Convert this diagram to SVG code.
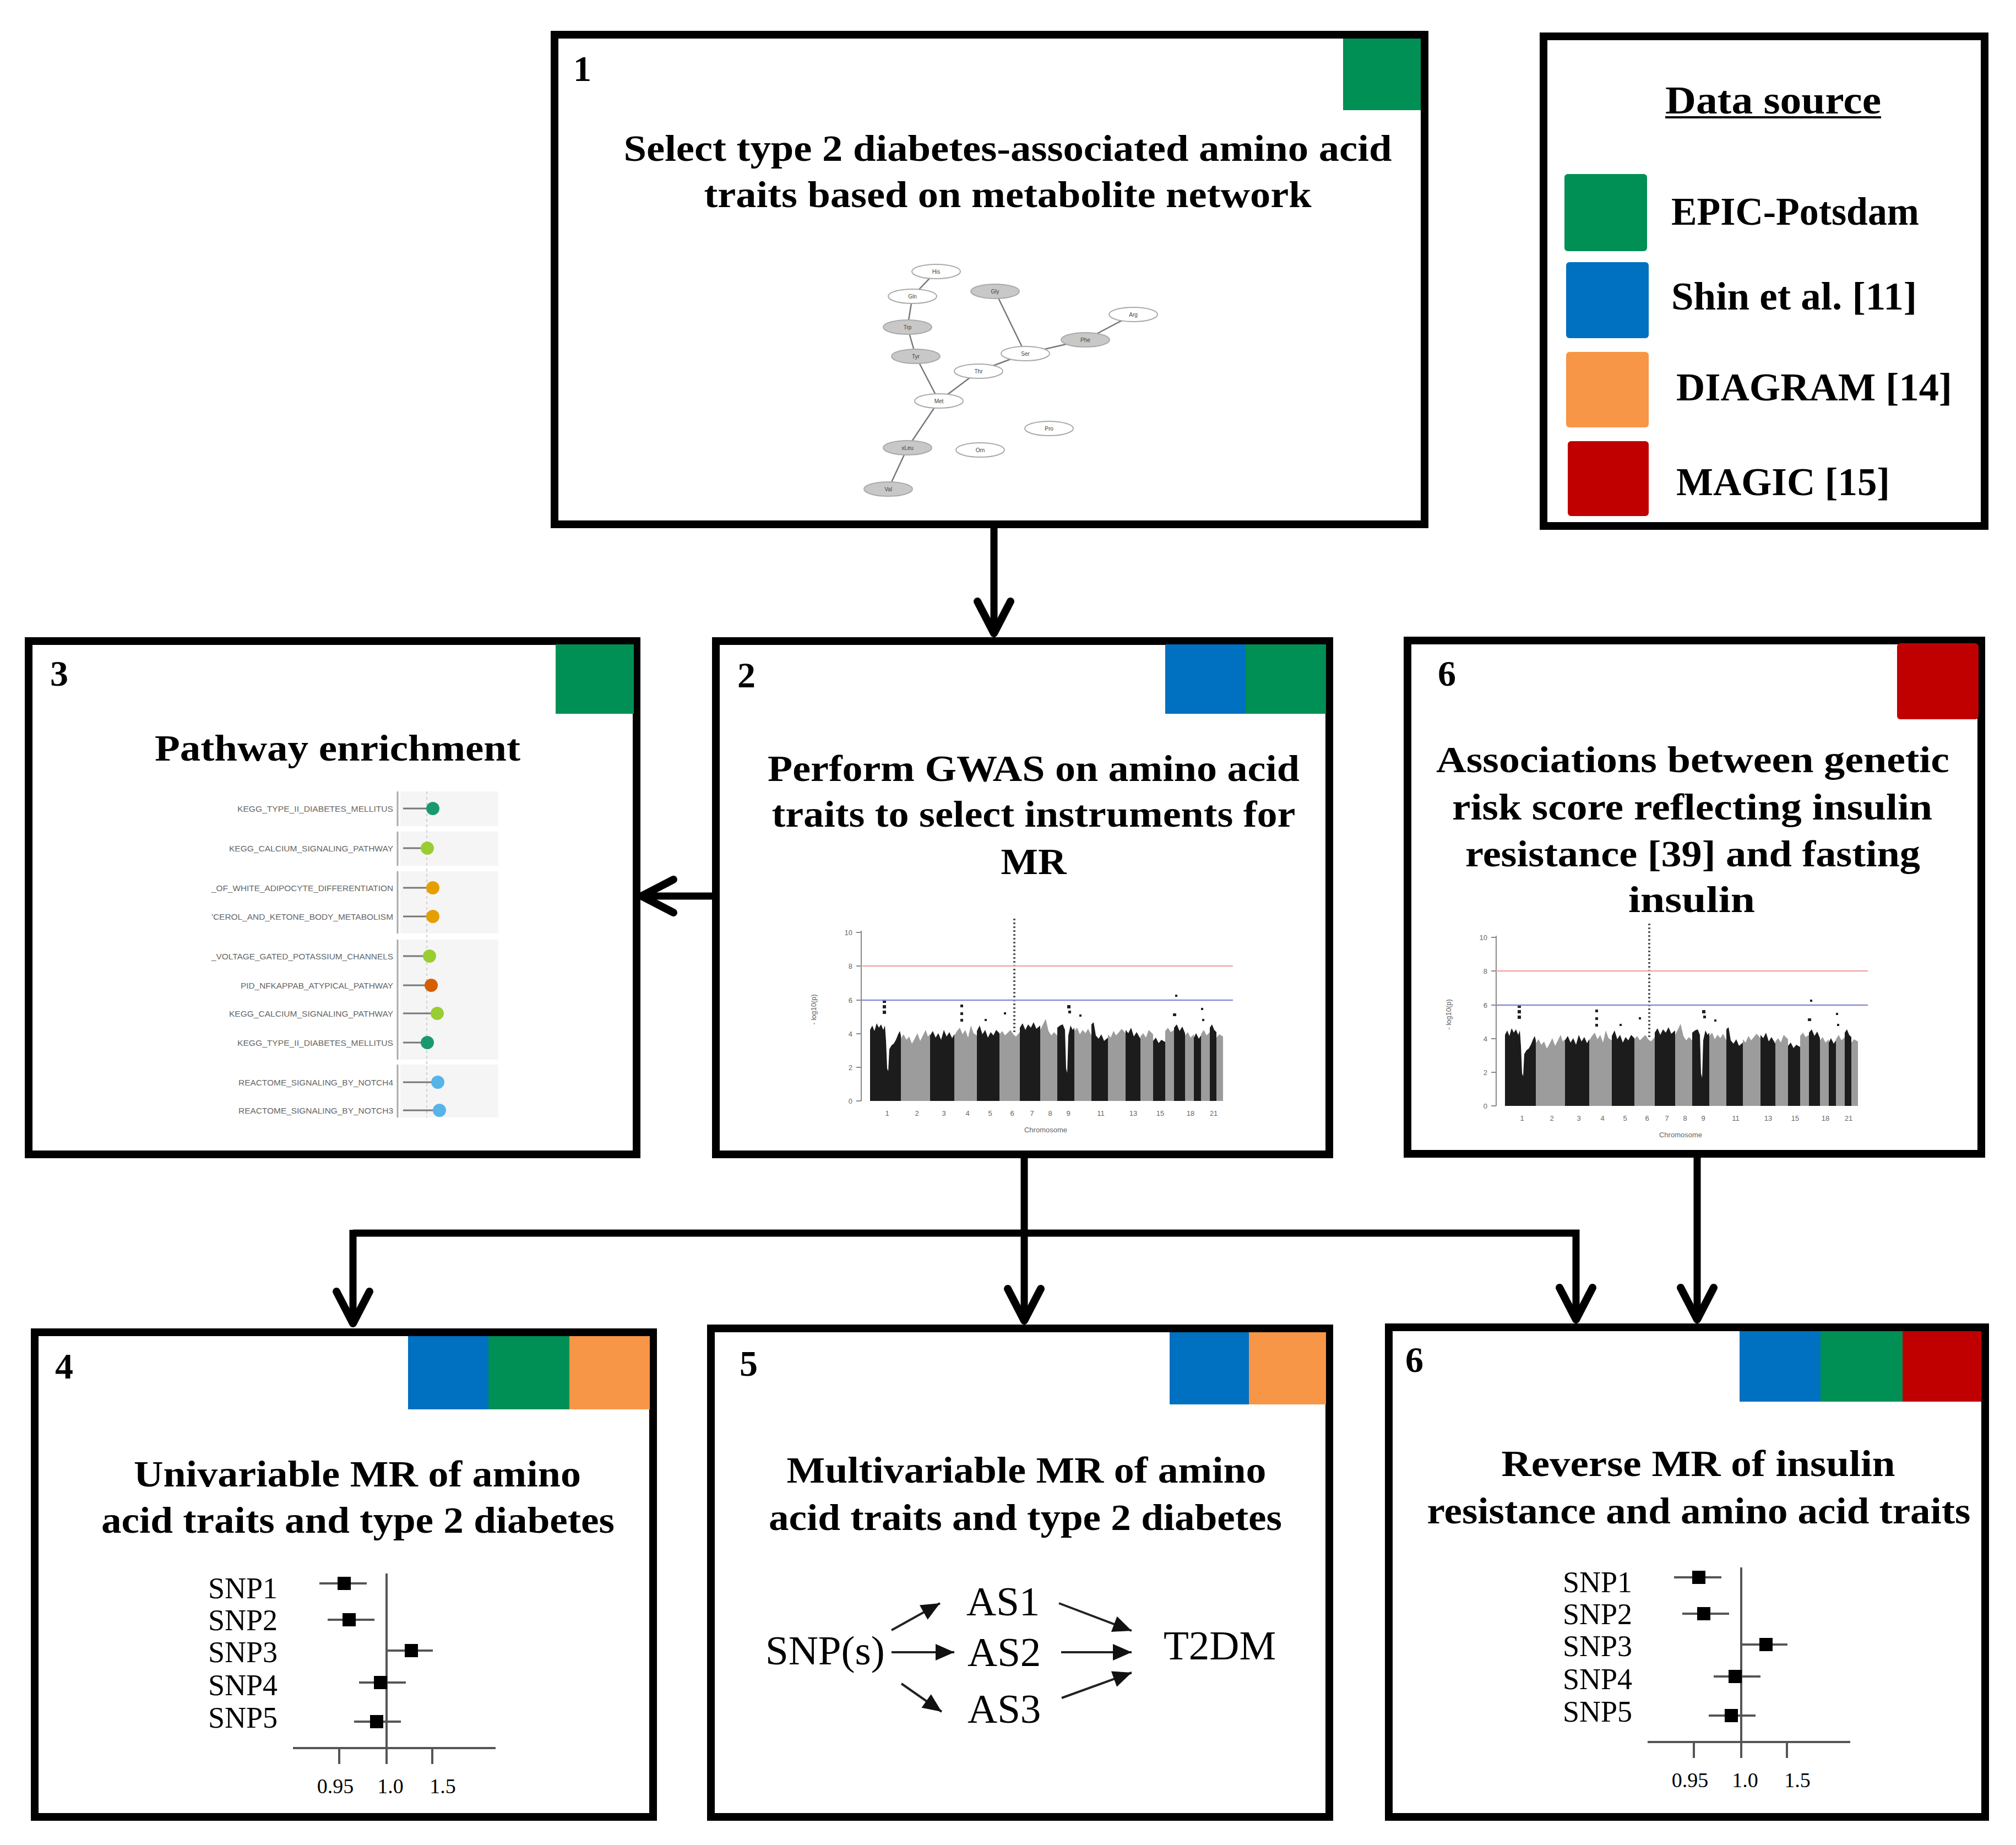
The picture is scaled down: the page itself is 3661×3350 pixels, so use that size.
<svg xmlns="http://www.w3.org/2000/svg" xmlns:xlink="http://www.w3.org/1999/xlink" width="3661" height="3350" viewBox="0 0 3661 3350">
<style>
.box{fill:#fff;stroke:#000;stroke-width:14}
.num{font-family:"Liberation Serif",serif;font-size:66px;font-weight:bold;fill:#000}
.title{font-family:"Liberation Serif",serif;font-weight:bold;font-size:68px;text-anchor:middle;fill:#000}
.leg{font-family:"Liberation Serif",serif;font-weight:bold;font-size:72px;fill:#000}
.conn{fill:none;stroke:#000;stroke-width:13}
.edge{stroke:#777;stroke-width:2.5}
.nw{fill:#fff;stroke:#aaa;stroke-width:2}
.ng{fill:#c8c8c8;stroke:#aaa;stroke-width:2}
.nt{font-family:"Liberation Sans",sans-serif;font-size:10px;fill:#444;text-anchor:middle}
.tick{font-family:"Liberation Sans",sans-serif;font-size:13px;fill:#666}
.pw{font-family:"Liberation Sans",sans-serif;font-size:15px;fill:#666;text-anchor:end}
.panel{fill:#f5f5f5}
.stem{stroke:#777;stroke-width:3}
.snp{font-family:"Liberation Serif",serif;font-size:54px;fill:#000}
.fl{stroke:#555;stroke-width:4}
.ft{font-family:"Liberation Serif",serif;font-size:38px;fill:#000;text-anchor:middle}
.mv{font-family:"Liberation Serif",serif;font-size:75px;fill:#000}
.mva{stroke:#222;stroke-width:4}
.blk{fill:#1c1c1c}
.gry{fill:#9c9c9c}
</style>
<defs>
<marker id="chev" markerUnits="userSpaceOnUse" viewBox="-80 -50 100 100" markerWidth="100" markerHeight="100" refX="0" refY="0" orient="auto" overflow="visible">
<path d="M -58 -30 L 0 0 L -58 30" fill="none" stroke="#000" stroke-width="14" stroke-linecap="round" stroke-linejoin="round"/>
</marker>
<marker id="tri" markerUnits="userSpaceOnUse" viewBox="-40 -20 44 40" markerWidth="44" markerHeight="40" refX="0" refY="0" orient="auto" overflow="visible">
<path d="M 0 0 L -34 -15 L -34 15 Z" fill="#111"/>
</marker>
<g id="manhattan">
<line x1="1564" y1="1690" x2="1564" y2="1999" stroke="#888" stroke-width="2"/>
<g stroke="#888" stroke-width="2">
<line x1="1555" y1="1693" x2="1564" y2="1693"/><line x1="1555" y1="1754" x2="1564" y2="1754"/><line x1="1555" y1="1816" x2="1564" y2="1816"/><line x1="1555" y1="1877" x2="1564" y2="1877"/><line x1="1555" y1="1938" x2="1564" y2="1938"/><line x1="1555" y1="1999" x2="1564" y2="1999"/>
</g>
<g class="tick" text-anchor="end">
<text x="1548" y="1698">10</text><text x="1548" y="1759">8</text><text x="1548" y="1821">6</text><text x="1548" y="1882">4</text><text x="1548" y="1943">2</text><text x="1548" y="2004">0</text>
</g>
<text class="tick" font-size="12" text-anchor="middle" transform="translate(1482 1833) rotate(-90)">- log10(p)</text>
<path class="blk" d="M1580 1999 L1580 1870 L1584 1862 L1588 1872 L1592 1858 L1596 1866 L1600 1860 L1604 1870 L1607 1862 L1609 1890 L1611 1940 L1613 1945 L1615 1905 L1619 1898 L1623 1895 L1627 1888 L1631 1878 L1634 1872 L1636 1880 L1636 1999 Z"/>
<path class="gry" d="M1636 1999 L1636 1885 L1641 1878 L1646 1888 L1651 1882 L1656 1895 L1661 1886 L1666 1876 L1671 1890 L1676 1880 L1681 1870 L1685 1882 L1689 1878 L1689 1999 Z"/>
<path class="blk" d="M1689 1999 L1689 1880 L1694 1872 L1699 1884 L1704 1876 L1709 1888 L1714 1870 L1719 1882 L1724 1874 L1729 1885 L1733 1878 L1733 1999 Z"/>
<path class="gry" d="M1733 1999 L1733 1880 L1738 1872 L1743 1866 L1748 1878 L1753 1870 L1758 1884 L1763 1862 L1768 1876 L1774 1880 L1774 1999 Z"/>
<path class="blk" d="M1774 1999 L1774 1872 L1779 1862 L1784 1878 L1789 1870 L1794 1884 L1799 1874 L1804 1880 L1809 1870 L1815 1876 L1815 1999 Z"/>
<path class="gry" d="M1815 1999 L1815 1878 L1820 1872 L1825 1880 L1830 1875 L1835 1870 L1840 1878 L1845 1882 L1852 1874 L1852 1999 Z"/>
<path class="blk" d="M1852 1999 L1852 1866 L1857 1858 L1862 1870 L1867 1860 L1872 1866 L1877 1856 L1882 1868 L1889 1862 L1889 1999 Z"/>
<path class="gry" d="M1889 1999 L1889 1870 L1894 1860 L1899 1850 L1904 1872 L1909 1880 L1914 1874 L1920 1880 L1920 1999 Z"/>
<path class="blk" d="M1920 1999 L1920 1866 L1925 1862 L1930 1860 L1934 1870 L1936 1940 L1938 1948 L1940 1880 L1944 1862 L1948 1870 L1951 1866 L1951 1999 Z"/>
<path class="gry" d="M1951 1999 L1951 1872 L1956 1866 L1961 1878 L1966 1870 L1971 1876 L1976 1868 L1982 1880 L1982 1999 Z"/>
<path class="blk" d="M1982 1999 L1982 1860 L1986 1856 L1990 1880 L1995 1886 L2000 1878 L2005 1890 L2012 1884 L2012 1999 Z"/>
<path class="gry" d="M2012 1999 L2012 1878 L2017 1884 L2022 1872 L2027 1880 L2032 1874 L2037 1868 L2044 1876 L2044 1999 Z"/>
<path class="blk" d="M2044 1999 L2044 1870 L2049 1876 L2054 1866 L2059 1882 L2064 1874 L2071 1886 L2071 1999 Z"/>
<path class="gry" d="M2071 1999 L2071 1882 L2076 1876 L2081 1884 L2086 1870 L2094 1878 L2094 1999 Z"/>
<path class="blk" d="M2094 1999 L2094 1890 L2099 1884 L2104 1894 L2109 1888 L2116 1892 L2116 1999 Z"/>
<path class="gry" d="M2116 1999 L2116 1872 L2121 1866 L2126 1874 L2132 1870 L2132 1999 Z"/>
<path class="blk" d="M2132 1999 L2132 1866 L2137 1860 L2142 1872 L2147 1864 L2152 1876 L2152 1999 Z"/>
<path class="gry" d="M2152 1999 L2152 1880 L2157 1874 L2162 1884 L2168 1878 L2168 1999 Z"/>
<path class="blk" d="M2168 1999 L2168 1884 L2172 1876 L2177 1886 L2181 1880 L2181 1999 Z"/>
<path class="gry" d="M2181 1999 L2181 1878 L2186 1870 L2191 1880 L2197 1874 L2197 1999 Z"/>
<path class="blk" d="M2197 1999 L2197 1866 L2201 1860 L2205 1870 L2209 1874 L2209 1999 Z"/>
<path class="gry" d="M2209 1999 L2209 1884 L2214 1878 L2221 1882 L2221 1999 Z"/>
<line x1="1842" y1="1668" x2="1842" y2="1878" stroke="#555" stroke-width="4" stroke-dasharray="3 4"/>
<g fill="#222">
<rect x="1603" y="1815" width="6" height="6"/><rect x="1603" y="1825" width="6" height="6"/><rect x="1603" y="1835" width="6" height="6"/>
<rect x="1744" y="1824" width="5" height="5"/><rect x="1744" y="1838" width="5" height="5"/><rect x="1744" y="1850" width="5" height="5"/>
<rect x="1938" y="1825" width="6" height="6"/><rect x="1940" y="1835" width="5" height="5"/>
<rect x="2134" y="1806" width="4" height="4"/><rect x="2130" y="1840" width="6" height="5"/>
<rect x="2181" y="1830" width="4" height="4"/><rect x="2183" y="1850" width="4" height="4"/>
<rect x="1788" y="1850" width="4" height="4"/><rect x="1823" y="1838" width="4" height="4"/><rect x="1960" y="1842" width="4" height="4"/>
</g>
<line x1="1564" y1="1754" x2="2239" y2="1754" stroke="#f2a8a8" stroke-width="2.5"/>
<line x1="1564" y1="1816" x2="2239" y2="1816" stroke="#8c8cd8" stroke-width="2.5"/>
<g class="tick" text-anchor="middle">
<text x="1611" y="2026">1</text><text x="1665" y="2026">2</text><text x="1714" y="2026">3</text><text x="1757" y="2026">4</text><text x="1798" y="2026">5</text><text x="1838" y="2026">6</text><text x="1874" y="2026">7</text><text x="1907" y="2026">8</text><text x="1940" y="2026">9</text><text x="1999" y="2026">11</text><text x="2058" y="2026">13</text><text x="2107" y="2026">15</text><text x="2162" y="2026">18</text><text x="2204" y="2026">21</text>
<text x="1899" y="2056">Chromosome</text>
</g>
</g>
<g id="forest">
<g class="snp">
<text x="378" y="2902">SNP1</text><text x="378" y="2960">SNP2</text><text x="378" y="3018">SNP3</text><text x="378" y="3078">SNP4</text><text x="378" y="3137">SNP5</text>
</g>
<line class="fl" x1="702" y1="2857" x2="702" y2="3203"/>
<line class="fl" x1="532" y1="3174" x2="900" y2="3174"/>
<line class="fl" x1="616" y1="3174" x2="616" y2="3203"/>
<line class="fl" x1="785" y1="3174" x2="785" y2="3203"/>
<line class="fl" x1="580" y1="2875" x2="666" y2="2875"/>
<line class="fl" x1="595" y1="2941" x2="680" y2="2941"/>
<line class="fl" x1="702" y1="2997" x2="786" y2="2997"/>
<line class="fl" x1="652" y1="3055" x2="737" y2="3055"/>
<line class="fl" x1="643" y1="3126" x2="728" y2="3126"/>
<g fill="#000">
<rect x="613" y="2863" width="24" height="24"/><rect x="622" y="2929" width="24" height="24"/><rect x="735" y="2985" width="24" height="24"/><rect x="679" y="3043" width="24" height="24"/><rect x="672" y="3114" width="24" height="24"/>
</g>
<g class="ft">
<text x="609" y="3256">0.95</text><text x="709" y="3256">1.0</text><text x="804" y="3256">1.5</text>
</g>
</g>
</defs>

<g id="node-1">
<rect class="box" x="1007" y="63" width="1580" height="889"/>
<rect x="2439" y="70" width="141" height="130" fill="#008F54"/>
<text class="num" x="1041" y="147" font-weight="normal">1</text>
<text class="title" x="1830" y="292" textLength="1395" lengthAdjust="spacingAndGlyphs">Select type 2 diabetes-associated amino acid</text>
<text class="title" x="1830" y="376" textLength="1103" lengthAdjust="spacingAndGlyphs">traits based on metabolite  network</text>
<g>
<line class="edge" x1="1700" y1="493" x2="1657" y2="538"/>
<line class="edge" x1="1657" y1="538" x2="1648" y2="594"/>
<line class="edge" x1="1648" y1="594" x2="1663" y2="647"/>
<line class="edge" x1="1663" y1="647" x2="1705" y2="728"/>
<line class="edge" x1="1705" y1="728" x2="1777" y2="674"/>
<line class="edge" x1="1777" y1="674" x2="1862" y2="642"/>
<line class="edge" x1="1862" y1="642" x2="1807" y2="529"/>
<line class="edge" x1="1862" y1="642" x2="1971" y2="617"/>
<line class="edge" x1="1971" y1="617" x2="2058" y2="571"/>
<line class="edge" x1="1705" y1="728" x2="1648" y2="813"/>
<line class="edge" x1="1648" y1="813" x2="1613" y2="888"/>
<ellipse class="nw" cx="1700" cy="493" rx="44" ry="13"/><text class="nt" x="1700" y="497">His</text>
<ellipse class="nw" cx="1657" cy="538" rx="44" ry="13"/><text class="nt" x="1657" y="542">Gln</text>
<ellipse class="ng" cx="1807" cy="529" rx="44" ry="13"/><text class="nt" x="1807" y="533">Gly</text>
<ellipse class="ng" cx="1648" cy="594" rx="44" ry="13"/><text class="nt" x="1648" y="598">Trp</text>
<ellipse class="nw" cx="2058" cy="571" rx="44" ry="13"/><text class="nt" x="2058" y="575">Arg</text>
<ellipse class="ng" cx="1663" cy="647" rx="44" ry="13"/><text class="nt" x="1663" y="651">Tyr</text>
<ellipse class="ng" cx="1971" cy="617" rx="44" ry="13"/><text class="nt" x="1971" y="621">Phe</text>
<ellipse class="nw" cx="1862" cy="642" rx="44" ry="13"/><text class="nt" x="1862" y="646">Ser</text>
<ellipse class="nw" cx="1777" cy="674" rx="44" ry="13"/><text class="nt" x="1777" y="678">Thr</text>
<ellipse class="nw" cx="1705" cy="728" rx="44" ry="13"/><text class="nt" x="1705" y="732">Met</text>
<ellipse class="nw" cx="1905" cy="778" rx="44" ry="13"/><text class="nt" x="1905" y="782">Pro</text>
<ellipse class="nw" cx="1780" cy="817" rx="44" ry="13"/><text class="nt" x="1780" y="821">Orn</text>
<ellipse class="ng" cx="1648" cy="813" rx="44" ry="13"/><text class="nt" x="1648" y="817">xLeu</text>
<ellipse class="ng" cx="1613" cy="888" rx="44" ry="13"/><text class="nt" x="1613" y="892">Val</text>
</g>
</g>

<g id="legend">
<rect class="box" x="2803" y="66" width="801" height="889"/>
<text class="leg" x="3220" y="206" text-anchor="middle" textLength="392" lengthAdjust="spacingAndGlyphs">Data source</text>
<line x1="3024" y1="213" x2="3416" y2="213" stroke="#000" stroke-width="4"/>
<rect x="2841" y="316" width="150" height="140" rx="6" fill="#008F54"/>
<rect x="2844" y="476" width="150" height="138" rx="6" fill="#0070C0"/>
<rect x="2844" y="639" width="150" height="137" rx="6" fill="#F79646"/>
<rect x="2847" y="801" width="147" height="136" rx="6" fill="#C00000"/>
<text class="leg" x="3035" y="408" textLength="450" lengthAdjust="spacingAndGlyphs">EPIC-Potsdam</text>
<text class="leg" x="3035" y="562" textLength="446" lengthAdjust="spacingAndGlyphs">Shin et al. [11]</text>
<text class="leg" x="3044" y="727" textLength="501" lengthAdjust="spacingAndGlyphs">DIAGRAM [14]</text>
<text class="leg" x="3044" y="899" textLength="388" lengthAdjust="spacingAndGlyphs">MAGIC [15]</text>
</g>

<g id="node-3">
<rect class="box" x="52" y="1164" width="1104" height="932"/>
<rect x="1009" y="1170" width="142" height="126" fill="#008F54"/>
<text class="num" x="91" y="1245">3</text>
<text class="title" x="613" y="1381" font-size="72" textLength="664" lengthAdjust="spacingAndGlyphs">Pathway enrichment</text>
<g>
<rect class="panel" x="727" y="1437" width="178" height="63"/>
<rect class="panel" x="727" y="1510" width="178" height="62"/>
<rect class="panel" x="727" y="1582" width="178" height="113"/>
<rect class="panel" x="727" y="1706" width="178" height="218"/>
<rect class="panel" x="727" y="1933" width="178" height="96"/>
<g stroke="#aaa" stroke-width="3">
<line x1="722" y1="1437" x2="722" y2="1500"/><line x1="722" y1="1510" x2="722" y2="1572"/><line x1="722" y1="1582" x2="722" y2="1695"/><line x1="722" y1="1706" x2="722" y2="1924"/><line x1="722" y1="1933" x2="722" y2="2029"/>
</g>
<line x1="775" y1="1437" x2="775" y2="2029" stroke="#d0d0d0" stroke-width="2" stroke-dasharray="5 5"/>
<line class="stem" x1="732" y1="1468" x2="786" y2="1468"/>
<line class="stem" x1="732" y1="1540" x2="776" y2="1540"/>
<line class="stem" x1="732" y1="1612" x2="786" y2="1612"/>
<line class="stem" x1="732" y1="1664" x2="786" y2="1664"/>
<line class="stem" x1="732" y1="1736" x2="780" y2="1736"/>
<line class="stem" x1="732" y1="1789" x2="783" y2="1789"/>
<line class="stem" x1="732" y1="1840" x2="794" y2="1840"/>
<line class="stem" x1="732" y1="1893" x2="776" y2="1893"/>
<line class="stem" x1="732" y1="1965" x2="795" y2="1965"/>
<line class="stem" x1="732" y1="2016" x2="798" y2="2016"/>
<circle cx="786" cy="1468" r="12" fill="#1a9a6c"/>
<circle cx="776" cy="1540" r="12" fill="#9acd32"/>
<circle cx="786" cy="1612" r="12" fill="#e69f00"/>
<circle cx="786" cy="1664" r="12" fill="#e69f00"/>
<circle cx="780" cy="1736" r="12" fill="#9acd32"/>
<circle cx="783" cy="1789" r="12" fill="#d55e00"/>
<circle cx="794" cy="1840" r="12" fill="#9acd32"/>
<circle cx="776" cy="1893" r="12" fill="#1a9a6c"/>
<circle cx="795" cy="1965" r="12" fill="#56b4e9"/>
<circle cx="798" cy="2016" r="12" fill="#56b4e9"/>
<text class="pw" x="714" y="1474" textLength="283" lengthAdjust="spacingAndGlyphs">KEGG_TYPE_II_DIABETES_MELLITUS</text>
<text class="pw" x="714" y="1546" textLength="298" lengthAdjust="spacingAndGlyphs">KEGG_CALCIUM_SIGNALING_PATHWAY</text>
<text class="pw" x="714" y="1618" textLength="330" lengthAdjust="spacingAndGlyphs">_OF_WHITE_ADIPOCYTE_DIFFERENTIATION</text>
<text class="pw" x="714" y="1670" textLength="330" lengthAdjust="spacingAndGlyphs">'CEROL_AND_KETONE_BODY_METABOLISM</text>
<text class="pw" x="714" y="1742" textLength="330" lengthAdjust="spacingAndGlyphs">_VOLTAGE_GATED_POTASSIUM_CHANNELS</text>
<text class="pw" x="714" y="1795" textLength="277" lengthAdjust="spacingAndGlyphs">PID_NFKAPPAB_ATYPICAL_PATHWAY</text>
<text class="pw" x="714" y="1846" textLength="298" lengthAdjust="spacingAndGlyphs">KEGG_CALCIUM_SIGNALING_PATHWAY</text>
<text class="pw" x="714" y="1899" textLength="283" lengthAdjust="spacingAndGlyphs">KEGG_TYPE_II_DIABETES_MELLITUS</text>
<text class="pw" x="714" y="1971" textLength="281" lengthAdjust="spacingAndGlyphs">REACTOME_SIGNALING_BY_NOTCH4</text>
<text class="pw" x="714" y="2022" textLength="281" lengthAdjust="spacingAndGlyphs">REACTOME_SIGNALING_BY_NOTCH3</text>
</g>
</g>

<g id="node-2">
<rect class="box" x="1300" y="1164" width="1114" height="932"/>
<rect x="2116" y="1170" width="146" height="126" fill="#0070C0"/>
<rect x="2262" y="1170" width="146" height="126" fill="#008F54"/>
<text class="num" x="1339" y="1248">2</text>
<text class="title" x="1877" y="1418" textLength="966" lengthAdjust="spacingAndGlyphs">Perform GWAS on amino acid</text>
<text class="title" x="1877" y="1501" textLength="951" lengthAdjust="spacingAndGlyphs">traits to select instruments for</text>
<text class="title" x="1877" y="1587" textLength="119" lengthAdjust="spacingAndGlyphs">MR</text>
<use xlink:href="#manhattan" href="#manhattan"/>
</g>

<g id="node-6a">
<rect class="box" x="2556" y="1163" width="1042" height="932"/>
<rect x="3445" y="1168" width="148" height="138" rx="6" fill="#C00000"/>
<text class="num" x="2611" y="1245">6</text>
<text class="title" x="3074" y="1402" textLength="932" lengthAdjust="spacingAndGlyphs">Associations between genetic</text>
<text class="title" x="3073" y="1488" textLength="872" lengthAdjust="spacingAndGlyphs">risk score reflecting insulin</text>
<text class="title" x="3074" y="1573" textLength="826" lengthAdjust="spacingAndGlyphs">resistance [39] and fasting</text>
<text class="title" x="3072" y="1656" textLength="230" lengthAdjust="spacingAndGlyphs">insulin</text>
<use xlink:href="#manhattan" href="#manhattan" transform="translate(1153 9)"/>
</g>

<g id="node-4">
<rect class="box" x="63" y="2419" width="1123" height="880"/>
<rect x="741" y="2426" width="146" height="133" fill="#0070C0"/>
<rect x="887" y="2426" width="147" height="133" fill="#008F54"/>
<rect x="1034" y="2426" width="146" height="133" fill="#F79646"/>
<text class="num" x="100" y="2503">4</text>
<text class="title" x="649" y="2699" textLength="812" lengthAdjust="spacingAndGlyphs">Univariable MR of amino</text>
<text class="title" x="650" y="2783" textLength="932" lengthAdjust="spacingAndGlyphs">acid traits and type 2 diabetes</text>
<use xlink:href="#forest" href="#forest"/>
</g>

<g id="node-5">
<rect class="box" x="1291" y="2412" width="1123" height="887"/>
<rect x="2124" y="2419" width="144" height="131" fill="#0070C0"/>
<rect x="2268" y="2419" width="140" height="131" fill="#F79646"/>
<text class="num" x="1343" y="2498">5</text>
<text class="title" x="1864" y="2692" textLength="871" lengthAdjust="spacingAndGlyphs">Multivariable MR of amino</text>
<text class="title" x="1862" y="2778" textLength="932" lengthAdjust="spacingAndGlyphs">acid traits and type 2 diabetes</text>
<text class="mv" x="1390" y="3022">SNP(s)</text>
<text class="mv" x="1755" y="2933">AS1</text>
<text class="mv" x="1757" y="3025">AS2</text>
<text class="mv" x="1757" y="3128">AS3</text>
<text class="mv" x="2113" y="3013" font-size="80">T2DM</text>
<line class="mva" x1="1619" y1="2960" x2="1707" y2="2911" marker-end="url(#tri)"/>
<line class="mva" x1="1619" y1="3000" x2="1733" y2="3000" marker-end="url(#tri)"/>
<line class="mva" x1="1637" y1="3057" x2="1710" y2="3108" marker-end="url(#tri)"/>
<line class="mva" x1="1923" y1="2911" x2="2055" y2="2961" marker-end="url(#tri)"/>
<line class="mva" x1="1927" y1="3000" x2="2055" y2="3000" marker-end="url(#tri)"/>
<line class="mva" x1="1928" y1="3083" x2="2055" y2="3037" marker-end="url(#tri)"/>
</g>

<g id="node-6b">
<rect class="box" x="2522" y="2410" width="1083" height="889"/>
<rect x="3159" y="2417" width="147" height="128" fill="#0070C0"/>
<rect x="3306" y="2417" width="149" height="128" fill="#008F54"/>
<rect x="3455" y="2417" width="143" height="128" fill="#C00000"/>
<text class="num" x="2552" y="2491">6</text>
<text class="title" x="3084" y="2680" textLength="715" lengthAdjust="spacingAndGlyphs">Reverse MR of insulin</text>
<text class="title" x="3085" y="2766" textLength="987" lengthAdjust="spacingAndGlyphs">resistance and amino acid traits</text>
<use xlink:href="#forest" href="#forest" transform="translate(2460 -11)"/>
</g>

<g id="connectors">
<line class="conn" x1="1805" y1="959" x2="1805" y2="1150" marker-end="url(#chev)"/>
<line class="conn" x1="1293" y1="1627" x2="1165" y2="1627" marker-end="url(#chev)"/>
<line class="conn" x1="1860" y1="2103" x2="1860" y2="2398" marker-end="url(#chev)"/>
<path class="conn" d="M 641 2239 L 2862 2239 L 2862 2396" marker-end="url(#chev)"/>
<line class="conn" x1="641" y1="2233" x2="641" y2="2403" marker-end="url(#chev)"/>
<line class="conn" x1="3082" y1="2102" x2="3082" y2="2396" marker-end="url(#chev)"/>
</g>
</svg>
